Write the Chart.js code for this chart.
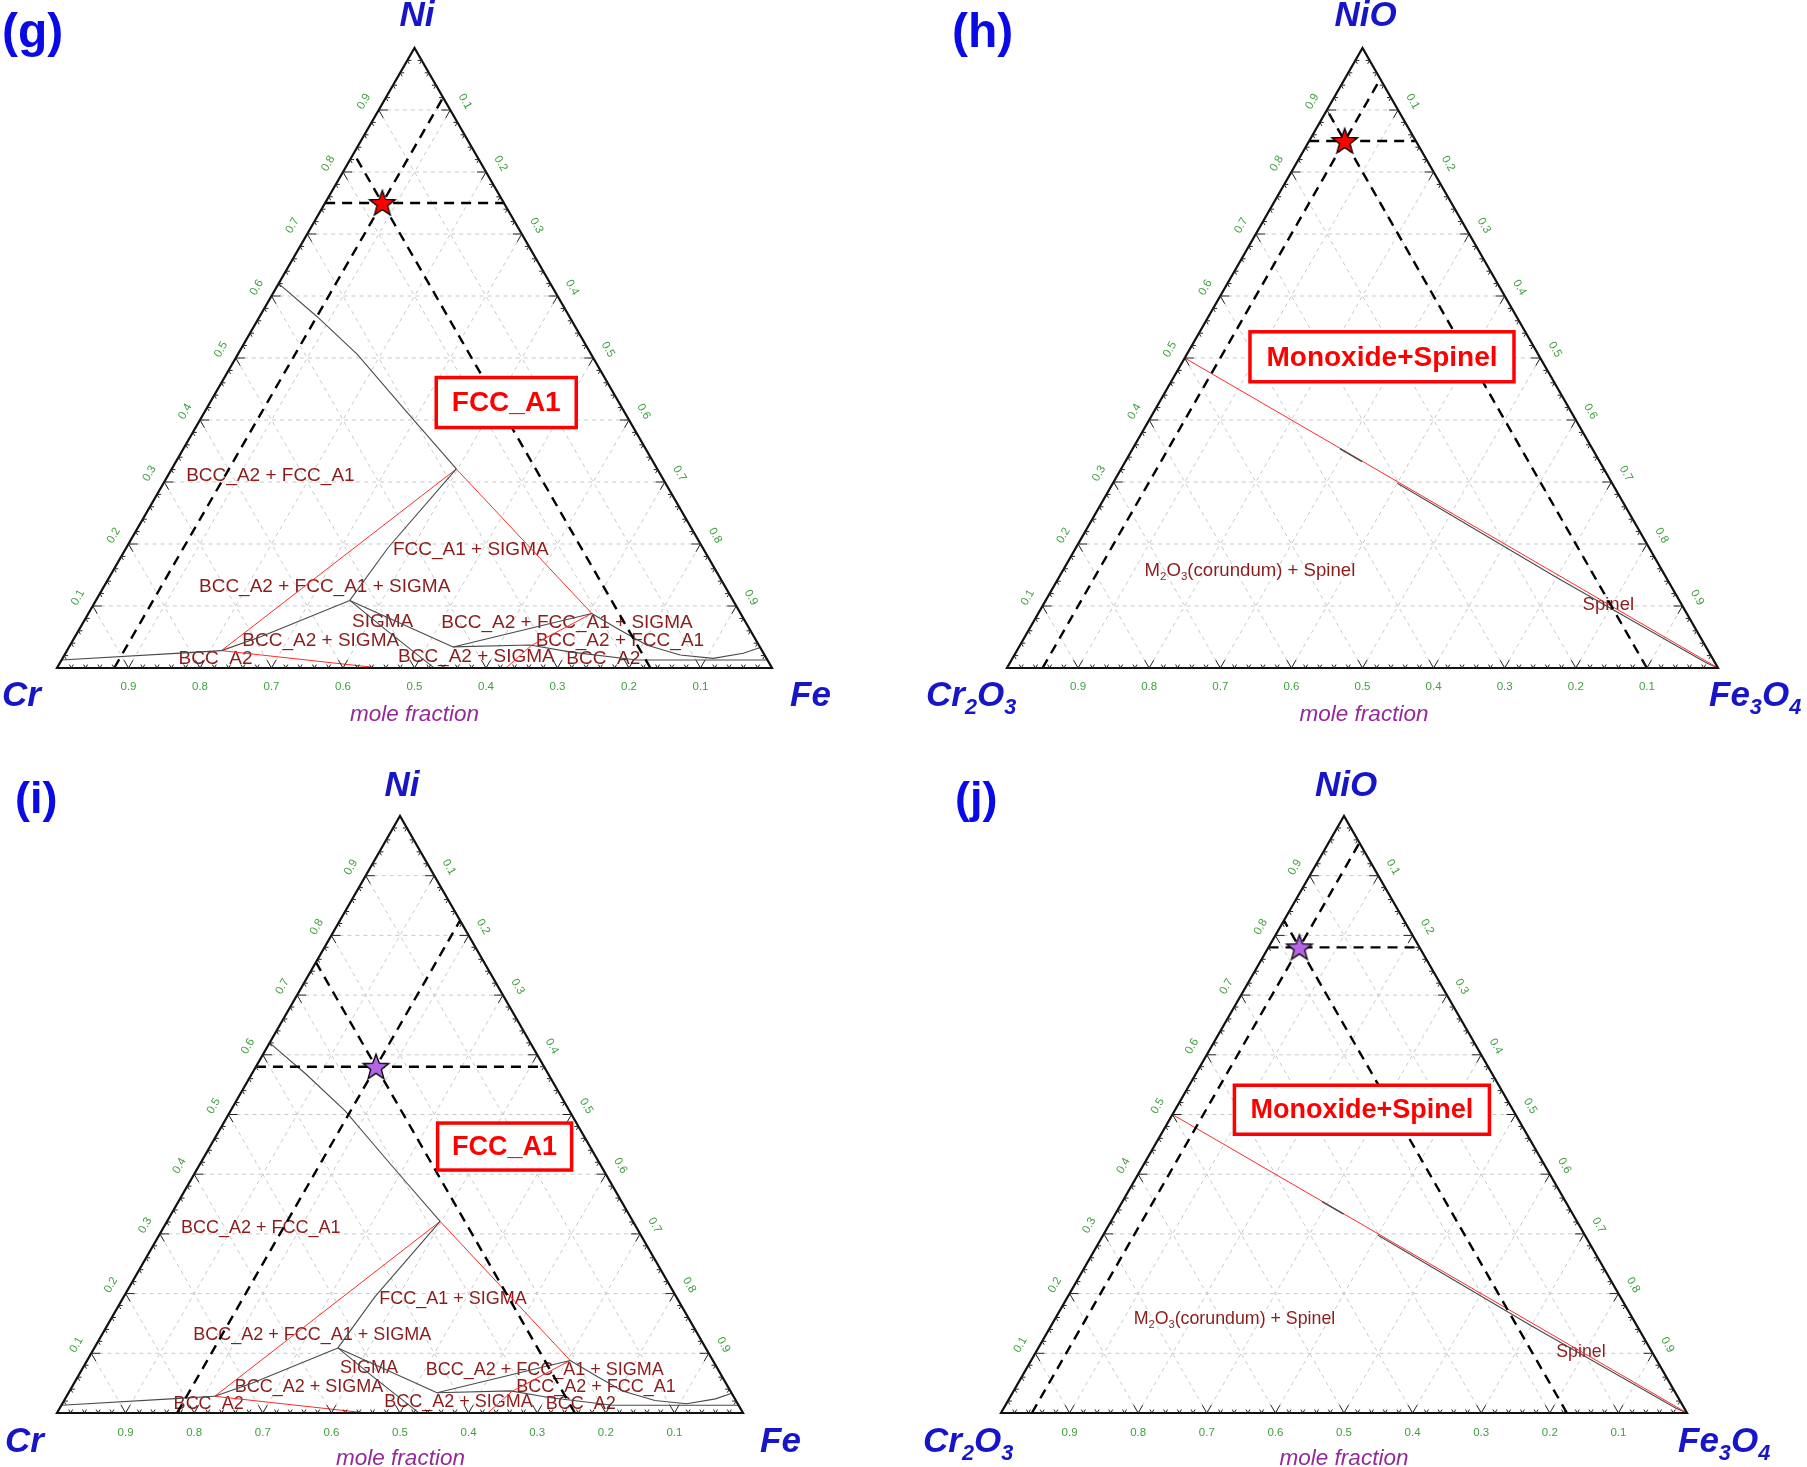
<!DOCTYPE html>
<html>
<head>
<meta charset="utf-8">
<script src="https://cdn.jsdelivr.net/npm/chart.js@4.4.1/dist/chart.umd.min.js"></script>
<style>
  html, body { margin: 0; padding: 0; background: #fff; }
  body { width: 1807px; height: 1467px; position: relative; overflow: hidden; }
  canvas { position: absolute; }
</style>
</head>
<body>
<canvas id="g" width="900" height="740" style="left:0px;top:0px"></canvas>
<canvas id="h" width="907" height="740" style="left:900px;top:0px"></canvas>
<canvas id="i" width="900" height="727" style="left:0px;top:740px"></canvas>
<canvas id="j" width="907" height="727" style="left:900px;top:740px"></canvas>
<script>
const SQ = Math.sqrt(3) / 2;

// corners: left, right, top
const metalCorners = ['Cr', 'Fe', 'Ni'];
const oxideCorners = ['Cr2O3', 'Fe3O4', 'NiO'];

const axisTicks = [0.1, 0.2, 0.3, 0.4, 0.5, 0.6, 0.7, 0.8, 0.9];
const tickLabels = ['0.1', '0.2', '0.3', '0.4', '0.5', '0.6', '0.7', '0.8', '0.9'];

// Cr-Fe-Ni phase boundaries, points are [x_Fe, x_Ni]
const grayBccFcc = [[0, 0.62], [0.08, 0.567], [0.167, 0.506], [0.28, 0.415], [0.398, 0.321]];
const grayFccSigma = [[0.398, 0.321], [0.366, 0.194], [0.355, 0.109]];
const grayCrSide = [[0, 0.013], [0.16, 0.024], [0.216, 0.028]];
const graySigmaLeft = [[0.355, 0.109], [0.259, 0.05], [0.216, 0.028]];
const graySigmaTop = [[0.355, 0.109], [0.537, 0.034]];
const graySigmaBase = [[0.355, 0.109], [0.43, 0.061], [0.526, 0.001]];
const grayToFcc = [[0.537, 0.034], [0.704, 0.088]];
const grayFeSide = [[0.704, 0.088], [0.751, 0.064], [0.806, 0.037], [0.861, 0.021], [0.91, 0.0156], [0.948, 0.0237], [0.967, 0.033]];
const grayBccBottom = [[0.537, 0.034], [0.643, 0.037], [0.704, 0.026], [0.804, 0.0129], [0.987, 0.013]];
const redFccLeft = [[0.398, 0.321], [0.216, 0.028]];
const redBccLeft = [[0.216, 0.028], [0.451, 0]];
const redFccRight = [[0.398, 0.321], [0.704, 0.088]];
const redBccRight = [[0.628, 0], [0.645, 0.036], [0.704, 0.088]];

// Cr2O3-Fe3O4-NiO boundaries, points are [x_Fe3O4, x_NiO]
const redSpinel = [[0, 0.5], [1, 0]];
const graySpinel = [[0.40, 0.298], [0.70, 0.146], [0.98, 0.008], [1, 0]];
const graySpinelShort = [[0.291, 0.354], [0.333, 0.333]];

// star compositions [left, right, top]
const starG = [0.17, 0.08, 0.75];
const starH = [0.10, 0.05, 0.85];
const starI = [0.245, 0.175, 0.58];
const starJ = [0.175, 0.045, 0.78];

const metalPhases = ['BCC_A2 + FCC_A1', 'FCC_A1 + SIGMA', 'BCC_A2 + FCC_A1 + SIGMA', 'SIGMA',
  'BCC_A2 + FCC_A1 + SIGMA', 'BCC_A2 + SIGMA', 'BCC_A2 + FCC_A1', 'BCC_A2', 'BCC_A2 + SIGMA', 'BCC_A2'];
const metalPhaseAt = [[0.1807, 0.268], [0.4698, 0.1648], [0.1986, 0.1133], [0.4126, 0.0652],
  [0.5375, 0.0626], [0.2592, 0.0381], [0.6695, 0.0381], [0.170, 0.0131], [0.4769, 0.0163], [0.7123, 0.0131]];
const oxidePhases = ['M2O3(corundum) + Spinel', 'Spinel'];
const oxidePhaseAt = [[0.1935, 0.1383], [0.8094, 0.0902]];

const GRAY = '#4a4a4a', RED = '#ff2a2a', BLUE = '#1616c8', LETTER = '#0a0ae6';
const PHASE = '#8b1c1c', GREEN = '#3f9f3f', PURPLE = '#942a99';
const FONT = '"Liberation Sans", Arial, sans-serif';

function tern(b, c) { return { x: b + c / 2, y: c * SQ }; }

function line(pts, color, width, dash) {
  return {
    data: pts.map(p => tern(p[0], p[1])), showLine: true, borderColor: color,
    borderWidth: width, borderDash: dash || [], pointRadius: 0, pointHoverRadius: 0,
    fill: false, clip: false, tension: 0
  };
}

function starImage(fill) {
  const c = document.createElement('canvas');
  c.width = 32; c.height = 32;
  const x = c.getContext('2d');
  x.beginPath();
  for (let k = 0; k < 10; k++) {
    const r = k % 2 ? 5.6 : 13.5;
    const a = -Math.PI / 2 + k * Math.PI / 5;
    x.lineTo(16 + r * Math.cos(a), 17 + r * Math.sin(a));
  }
  x.closePath();
  x.fillStyle = fill; x.fill();
  x.lineWidth = 1.3; x.strokeStyle = '#000'; x.stroke();
  return c;
}

function guideLines(comp) {
  const [a, b, c] = comp;
  const d = [10, 7];
  return [
    line([[b, 0], [b, 1 - b]], '#000', 2.4, d),
    line([[1 - a, 0], [0, 1 - a]], '#000', 2.4, d),
    line([[0, c], [1 - c, c]], '#000', 2.4, d)
  ];
}

function metalLines() {
  return [
    line(grayBccFcc, GRAY, 1.1), line(grayFccSigma, GRAY, 1.1), line(grayCrSide, GRAY, 1.1),
    line(graySigmaLeft, GRAY, 1.1), line(graySigmaTop, GRAY, 1.1), line(graySigmaBase, GRAY, 1.1),
    line(grayToFcc, GRAY, 1.1), line(grayFeSide, GRAY, 1.1), line(grayBccBottom, GRAY, 1.1),
    line(redFccLeft, RED, 1), line(redBccLeft, RED, 1), line(redFccRight, RED, 1), line(redBccRight, RED, 1)
  ];
}

function oxideLines() {
  return [line(graySpinelShort, GRAY, 1.4), line(redSpinel, RED, 1), line(graySpinel, GRAY, 1.1)];
}

const panels = {
  g: {
    corners: metalCorners, star: starG, starColor: '#ff0000', lines: metalLines,
    pad: { left: 57, right: 128, top: 48, bottom: 72 },
    letter: ['(g)', 2, 47, 48], top: [417, 26], left: [2, 706], right: [790, 706], mole: [414.5, 715],
    phases: metalPhases, phaseAt: metalPhaseAt, phaseSize: 19,
    box: ['FCC_A1', 0.6283, 0.3708, 140, 50, 28], bottomOff: 19
  },
  h: {
    corners: oxideCorners, star: starH, starColor: '#ff0000', lines: oxideLines,
    pad: { left: 107, right: 89, top: 48, bottom: 72 },
    letter: ['(h)', 52, 47, 48], top: [465.6, 26], left: [26, 706], right: [809, 706], mole: [464, 715],
    phases: oxidePhases, phaseAt: oxidePhaseAt, phaseSize: 18.6,
    box: ['Monoxide+Spinel', 0.5274, 0.4347, 264, 50, 28], bottomOff: 19
  },
  i: {
    corners: metalCorners, star: starI, starColor: '#b466e6', lines: metalLines,
    pad: { left: 57, right: 157, top: 76, bottom: 54 },
    letter: ['(i)', 15, 73, 45], top: [402, 56], left: [5, 712], right: [760, 712], mole: [400.5, 719],
    phases: metalPhases, phaseAt: metalPhaseAt, phaseSize: 18,
    box: ['FCC_A1', 0.6525, 0.3865, 134, 47, 27], bottomOff: 20
  },
  j: {
    corners: oxideCorners, star: starJ, starColor: '#b466e6', lines: oxideLines,
    pad: { left: 101, right: 120, top: 76, bottom: 54 },
    letter: ['(j)', 55, 73, 45], top: [446, 56], left: [23, 712], right: [778, 712], mole: [444, 719],
    phases: oxidePhases, phaseAt: oxidePhaseAt, phaseSize: 17.8,
    box: ['Monoxide+Spinel', 0.5261, 0.4399, 255, 49, 27], bottomOff: 20
  }
};

// text with digits as subscripts (chemical formulas)
function drawRich(ctx, text, x, y, size, style, align) {
  const runs = text.split(/(\d+)/).filter(s => s.length);
  const sub = size * 0.62;
  const fontOf = r => /^\d+$/.test(r) ? `${style} ${sub}px ${FONT}` : `${style} ${size}px ${FONT}`;
  let w = 0;
  runs.forEach(r => { ctx.font = fontOf(r); w += ctx.measureText(r).width; });
  let cx = align === 'center' ? x - w / 2 : x;
  ctx.textAlign = 'left';
  ctx.textBaseline = 'alphabetic';
  runs.forEach(r => {
    ctx.font = fontOf(r);
    const isSub = /^\d+$/.test(r);
    ctx.fillText(r, cx, isSub ? y + size * 0.24 : y);
    cx += ctx.measureText(r).width;
  });
}

const ternaryFrame = {
  id: 'ternaryFrame',
  beforeDatasetsDraw(chart) {
    const cfg = panels[chart.canvas.id];
    const ctx = chart.ctx, sx = chart.scales.x, sy = chart.scales.y;
    const P = (b, c) => { const t = tern(b, c); return [sx.getPixelForValue(t.x), sy.getPixelForValue(t.y)]; };
    const seg = (p, q) => { ctx.beginPath(); ctx.moveTo(p[0], p[1]); ctx.lineTo(q[0], q[1]); ctx.stroke(); };
    ctx.save();
    ctx.strokeStyle = '#c9c9c9'; ctx.lineWidth = 1; ctx.setLineDash([4, 4]);
    axisTicks.forEach(t => {
      seg(P(0, t), P(1 - t, t));
      seg(P(t, 0), P(t, 1 - t));
      seg(P(1 - t, 0), P(0, 1 - t));
    });
    ctx.setLineDash([]);
    // phase labels
    ctx.fillStyle = PHASE;
    cfg.phases.forEach((name, k) => {
      const px = sx.getPixelForValue(cfg.phaseAt[k][0]);
      const py = sy.getPixelForValue(cfg.phaseAt[k][1]);
      if (cfg.corners === oxideCorners) {
        drawRich(ctx, name, px, py + cfg.phaseSize * 0.36, cfg.phaseSize, '', 'left');
      } else {
        ctx.font = `${cfg.phaseSize}px ${FONT}`;
        ctx.textAlign = 'left'; ctx.textBaseline = 'middle';
        ctx.fillText(name, px, py);
      }
    });
    ctx.restore();
  },
  afterDatasetsDraw(chart) {
    const cfg = panels[chart.canvas.id];
    const ctx = chart.ctx, sx = chart.scales.x, sy = chart.scales.y;
    const P = (b, c) => { const t = tern(b, c); return [sx.getPixelForValue(t.x), sy.getPixelForValue(t.y)]; };
    ctx.save();
    // frame
    const A = P(0, 0), B = P(1, 0), C = P(0, 1);
    ctx.strokeStyle = '#111'; ctx.lineWidth = 2.2; ctx.lineJoin = 'miter';
    ctx.beginPath(); ctx.moveTo(A[0], A[1]); ctx.lineTo(B[0], B[1]); ctx.lineTo(C[0], C[1]); ctx.closePath(); ctx.stroke();
    // chevron ticks
    ctx.lineWidth = 1; ctx.strokeStyle = '#222';
    const chev = (p, d1, d2, L) => {
      ctx.beginPath();
      ctx.moveTo(p[0] + d1[0] * L, p[1] + d1[1] * L); ctx.lineTo(p[0], p[1]);
      ctx.lineTo(p[0] + d2[0] * L, p[1] + d2[1] * L); ctx.stroke();
    };
    for (let k = 1; k < 50; k++) {
      const s = k / 50, L = k % 5 === 0 ? 9 : 4;
      chev(P(s, 0), [0.5, -SQ], [-0.5, -SQ], L);
      chev(P(0, s), [1, 0], [0.5, SQ], L);
      chev(P(1 - s, s), [-1, 0], [-0.5, SQ], L);
    }
    // tick labels
    ctx.fillStyle = GREEN; ctx.font = `11.5px ${FONT}`;
    ctx.textAlign = 'center'; ctx.textBaseline = 'middle';
    axisTicks.forEach((t, k) => {
      const b = P(t, 0);
      ctx.fillText(tickLabels[8 - k], b[0], b[1] + cfg.bottomOff);
      const l = P(0, t);
      ctx.save(); ctx.translate(l[0] - 0.866 * 17, l[1] - 0.5 * 17); ctx.rotate(-Math.PI / 3);
      ctx.fillText(tickLabels[k], 0, 0); ctx.restore();
      const r = P(1 - t, t);
      ctx.save(); ctx.translate(r[0] + 0.866 * 17, r[1] - 0.5 * 17); ctx.rotate(Math.PI / 3);
      ctx.fillText(tickLabels[8 - k], 0, 0); ctx.restore();
    });
    // corner labels
    ctx.fillStyle = BLUE;
    drawRich(ctx, cfg.corners[2], cfg.top[0], cfg.top[1], 35, 'italic bold', 'center');
    drawRich(ctx, cfg.corners[0], cfg.left[0], cfg.left[1], 35, 'italic bold', 'left');
    drawRich(ctx, cfg.corners[1], cfg.right[0], cfg.right[1], 35, 'italic bold', 'left');
    // panel letter
    ctx.fillStyle = LETTER; ctx.font = `bold ${cfg.letter[3]}px ${FONT}`;
    ctx.textAlign = 'left'; ctx.textBaseline = 'alphabetic';
    ctx.fillText(cfg.letter[0], cfg.letter[1], cfg.letter[2]);
    // axis caption
    ctx.fillStyle = PURPLE; ctx.font = `italic 22.5px ${FONT}`;
    ctx.textAlign = 'center'; ctx.textBaseline = 'middle';
    ctx.fillText('mole fraction', cfg.mole[0], cfg.mole[1]);
    // boxed region label
    const [txt, bx, by, bw, bh, fs] = cfg.box;
    const cx = sx.getPixelForValue(bx), cy = sy.getPixelForValue(by);
    ctx.fillStyle = '#fff'; ctx.fillRect(cx - bw / 2, cy - bh / 2, bw, bh);
    ctx.strokeStyle = '#ff0000'; ctx.lineWidth = 3.5; ctx.strokeRect(cx - bw / 2, cy - bh / 2, bw, bh);
    ctx.fillStyle = '#ff0000'; ctx.font = `bold ${fs}px ${FONT}`;
    ctx.fillText(txt, cx, cy + 1);
    ctx.restore();
  }
};

function makeChart(id) {
  const cfg = panels[id];
  const [a, b, c] = cfg.star;
  const datasets = [
    { data: [tern(b, c)], pointStyle: starImage(cfg.starColor), pointRadius: 13, showLine: false, clip: false },
    ...guideLines(cfg.star),
    ...cfg.lines()
  ];
  new Chart(document.getElementById(id), {
    type: 'scatter',
    data: { datasets },
    options: {
      responsive: false, animation: false, devicePixelRatio: 1, events: [],
      layout: { padding: cfg.pad },
      scales: {
        x: { type: 'linear', min: 0, max: 1, display: false },
        y: { type: 'linear', min: 0, max: SQ, display: false }
      },
      plugins: { legend: { display: false }, tooltip: { enabled: false } }
    },
    plugins: [ternaryFrame]
  });
}

['g', 'h', 'i', 'j'].forEach(makeChart);
</script>
</body>
</html>
